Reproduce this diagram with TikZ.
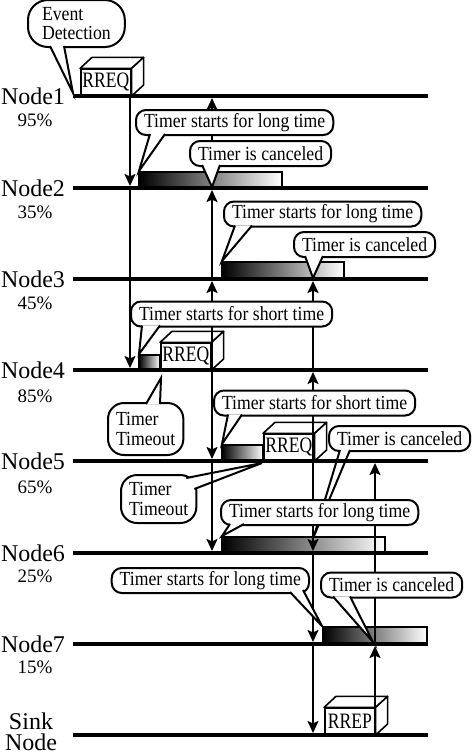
\documentclass[tikz,border=0pt]{standalone}
\usepackage{fontspec}
\setmainfont{Liberation Serif}
\newfontfamily\calloutfont{Liberation Serif}[FakeStretch=0.885]
\newfontfamily\pktfont{Liberation Serif}[FakeStretch=0.8]
\usetikzlibrary{arrows.meta,calc}

\tikzset{
  nodeline/.style={line width=2pt},
  msg/.style={line width=1pt, -{Stealth[length=6pt,width=5.5pt,inset=1.2pt]}, shorten >=1pt},
  callout/.style={draw, line width=1pt, fill=white, rounded corners=5pt, inner xsep=4pt, inner ysep=0.5pt,
    minimum height=12.5pt, font=\calloutfont\fontsize{10}{10}\selectfont},
  bigcallout/.style={callout, rounded corners=8pt, align=left, font=\calloutfont\fontsize{10}{9.8}\selectfont},
  pointer/.style={draw, line width=1pt, fill=white, line join=miter},
  timerbar/.style={draw, line width=0.6pt, left color=black, right color=white},
  pktface/.style={draw, line width=0.8pt, fill=white, minimum width=25pt, minimum height=13pt, inner sep=0pt,
    font=\pktfont\fontsize{11}{10}\selectfont},
  pkt/.style={draw, line width=0.8pt, fill=white, line join=round},
  nodelabel/.style={font=\fontsize{12}{10}\selectfont, inner sep=0pt},
  pct/.style={font=\fontsize{9.5}{10}\selectfont, inner sep=0pt},
}

\begin{document}
\begin{tikzpicture}[x=0.5pt, y=-0.5pt]
  \useasboundingbox (0,0) rectangle (474,756);

  % Time lines of the nodes
  \foreach \n/\y in {1/96,2/188,3/279,4/370,5/461,6/553,7/644,S/735} {
    \coordinate (L\n) at (73,\y);
    \coordinate (R\n) at (428,\y);
  }

  % Labels
  \node[nodelabel] (lab1) at (33,96) {Node1};
  \node[pct] (pct1) at (35,120) {95\%};
  \node[nodelabel] (lab2) at (33,188) {Node2};
  \node[pct] (pct2) at (35,212) {35\%};
  \node[nodelabel] (lab3) at (33,279) {Node3};
  \node[pct] (pct3) at (35,303) {45\%};
  \node[nodelabel] (lab4) at (33,370) {Node4};
  \node[pct] (pct4) at (35,396) {85\%};
  \node[nodelabel] (lab5) at (33,461) {Node5};
  \node[pct] (pct5) at (35,487) {65\%};
  \node[nodelabel] (lab6) at (33,553) {Node6};
  \node[pct] (pct6) at (35,576) {25\%};
  \node[nodelabel] (lab7) at (33,644) {Node7};
  \node[pct] (pct7) at (35,667) {15\%};
  \node[nodelabel, align=center, font=\fontsize{12}{10.5}\selectfont] (labS) at (31,732) {Sink\\Node};

  % Timers
  \path[timerbar] (139,172) rectangle (282,188);
  \path[timerbar] (222,262) rectangle (344,279);
  \path[timerbar] (139,355) rectangle (160,370);
  \path[timerbar] (222,445) rectangle (263,461);
  \path[timerbar] (222,537) rectangle (385,553);
  \path[timerbar] (323,627) rectangle (427,644);

  % Packets
  \foreach \p/\x/\l/\t in {rreq1/80/L1/RREQ, rreq4/160/L4/RREQ, rreq5/263/L5/RREQ, rrepS/324/LS/RREP} {
    \node[pktface, anchor=south west] (\p) at (\x,0 |- \l) {\t};
    \draw[pkt] (\p.north west) -- ++(12,-11) -- ($(\p.north east)+(12,-11)$) -- (\p.north east) -- cycle;
    \draw[pkt] (\p.north east) -- ++(12,-11) -- ($(\p.south east)+(12,-11)$) -- (\p.south east) -- cycle;
  }

  % Messages
  \coordinate (m1) at (130,0);
  \coordinate (m4) at (212,0);
  \coordinate (m5) at (313,0);
  \coordinate (mS) at (375,0);
  \foreach \a/\b in {L1/L2, L2/L4} \draw[msg] (m1 |- \a) -- (m1 |- \b);
  \foreach \a/\b in {L4/L3, L3/L2, L2/L1, L4/L5} \draw[msg] (m4 |- \a) -- (m4 |- \b);
  \foreach \a/\b in {L5/L4, L4/L3, L5/L6, L6/L7, L7/LS} \draw[msg] (m5 |- \a) -- (m5 |- \b);
  \foreach \a/\b in {LS/L7, L7/L5} \draw[msg] (mS |- \a) -- (mS |- \b);

  % Callouts
  \node[bigcallout, rounded corners=10pt, inner xsep=7pt, minimum height=23.5pt, anchor=west] (evt) at (27,23.5) {Event\\Detection};
  \coordinate (tevt) at (73,93);
  \draw[pointer] ([xshift=11.5pt,yshift=1pt]evt.south west) -- (tevt) -- ([xshift=18.5pt,yshift=1pt]evt.south west);

  \node[callout, anchor=west] (c2a) at (135,122.5) {Timer starts for long time};
  \coordinate (t2a) at (139,171);
  \draw[pointer] ([xshift=7.5pt,yshift=1pt]c2a.south west) -- (t2a) -- ([xshift=15pt,yshift=1pt]c2a.south west);

  \node[callout, anchor=west] (c2b) at (189,153.5) {Timer is canceled};
  \coordinate (t2b) at (212,187);
  \draw[pointer] ([xshift=6.5pt,yshift=1pt]c2b.south west) -- (t2b) -- ([xshift=15.5pt,yshift=1pt]c2b.south west);

  \node[callout, anchor=west] (c3a) at (223,214) {Timer starts for long time};
  \coordinate (t3a) at (222,261);
  \draw[pointer] ([xshift=6pt,yshift=1pt]c3a.south west) -- (t3a) -- ([xshift=14.5pt,yshift=1pt]c3a.south west);

  \node[callout, anchor=west] (c3b) at (293,244.5) {Timer is canceled};
  \coordinate (t3b) at (313,278);
  \draw[pointer] ([xshift=6pt,yshift=1pt]c3b.south west) -- (t3b) -- ([xshift=15pt,yshift=1pt]c3b.south west);

  \node[callout, anchor=west] (c4a) at (130,314) {Timer starts for short time};
  \coordinate (t4a) at (139,354);
  \draw[pointer] ([xshift=6pt,yshift=1pt]c4a.south west) -- (t4a) -- ([xshift=15pt,yshift=1pt]c4a.south west);

  \node[bigcallout, minimum height=26pt, anchor=west] (c4b) at (107,429) {Timer\\Timeout};
  \coordinate (t4b) at (161,378);
  \draw[pointer] ([xshift=19.5pt,yshift=-1pt]c4b.north west) -- (t4b) -- ([xshift=26.5pt,yshift=-1pt]c4b.north west);

  \node[callout, anchor=west] (c5a) at (213,403) {Timer starts for short time};
  \coordinate (t5a) at (222,444);
  \draw[pointer] ([xshift=7.5pt,yshift=1pt]c5a.south west) -- (t5a) -- ([xshift=14.5pt,yshift=1pt]c5a.south west);

  \node[callout, anchor=west] (c5b) at (328,438.5) {Timer is canceled};
  \coordinate (t5b) at (314,536);
  \draw[pointer] ([xshift=6pt,yshift=1pt]c5b.south west) -- (t5b) -- ([xshift=11pt,yshift=1pt]c5b.south west);

  \node[bigcallout, minimum height=24pt, anchor=west] (c5c) at (120,499) {Timer\\Timeout};
  \coordinate (t5c) at (262,463);
  \draw[pointer] ([xshift=-5.5pt,yshift=-2pt]c5c.north east) -- (t5c) -- ([xshift=-1.5pt,yshift=-7.5pt]c5c.north east);
  \draw[msg] (m4 |- L5) -- (m4 |- L6);

  \node[callout, anchor=west] (c6a) at (220,512.5) {Timer starts for long time};
  \coordinate (t6a) at (222,536);
  \draw[pointer] ([xshift=5pt,yshift=1pt]c6a.south west) -- (t6a) -- ([xshift=12pt,yshift=1pt]c6a.south west);

  \node[callout, anchor=east] (c7a) at (310,580.5) {Timer starts for long time};
  \coordinate (t7a) at (322,626);
  \draw[pointer] ([xshift=-10pt,yshift=1pt]c7a.south east) -- (t7a) -- ([xshift=-3.5pt,yshift=2pt]c7a.south east);

  \node[callout, anchor=west] (c7b) at (320,585) {Timer is canceled};
  \coordinate (t7b) at (373,642);
  \draw[pointer] ([xshift=6.5pt,yshift=1pt]c7b.south west) -- (t7b) -- ([xshift=15pt,yshift=1pt]c7b.south west);

  % Node lines on top
  \foreach \n in {1,...,7,S} \draw[nodeline] (L\n) -- (R\n);
\end{tikzpicture}
\end{document}
